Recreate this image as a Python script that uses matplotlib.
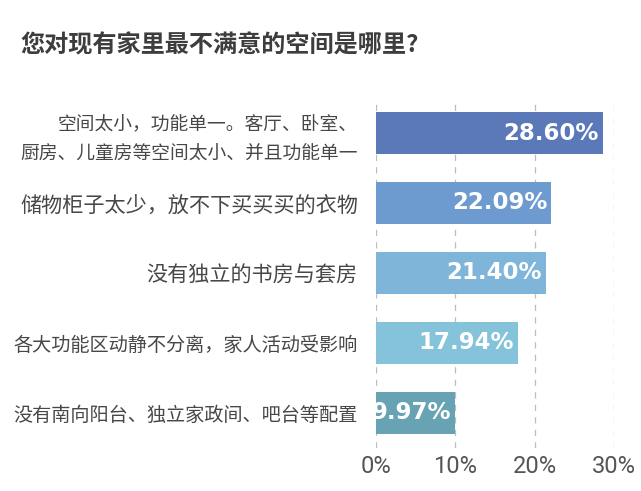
import matplotlib.pyplot as plt
import numpy as np

# data
categories = [
    "空间太小，功能单一。客厅、卧室、\n厨房、儿童房等空间太小、并且功能单一",
    "储物柜子太少，放不下买买买的衣物",
    "没有独立的书房与套房",
    "各大功能区动静不分离，家人活动受影响",
    "没有南向阳台、独立家政间、吧台等配置",
]
values = [28.60, 22.09, 21.40, 17.94, 9.97]
colors = ["#5b79b9", "#6e9bcf", "#7fb5d9", "#85c3db", "#68a3b3"]
xticks = [0, 10, 20, 30]
title = "您对现有家里最不满意的空间是哪里?"

cjk = ["Noto Sans CJK SC", "DejaVu Sans"]
label_sizes = [13.5, 15.2, 15.2, 13.8, 13.8]

fig = plt.figure(figsize=(6.41, 4.91), dpi=100)
ax = fig.add_axes([0.5866, 0.0876, 0.958 - 0.5866, 0.8004 - 0.0876])

y = np.arange(len(values))
bars = ax.barh(y, values, height=0.6, color=colors, zorder=2)
ax.set_ylim(len(values) - 0.5, -0.5)
ax.set_xlim(0, 30)

for b, v in zip(bars, values):
    ax.annotate(f"{v:.2f}%", xy=(v, b.get_y() + b.get_height() / 2),
                xytext=(-3, 0), textcoords="offset points",
                ha="right", va="center", color="white",
                fontsize=16.5, fontweight="bold", family="DejaVu Sans", zorder=3)

ax.set_yticks(y)
ax.set_yticklabels(categories, family=cjk, color="#474747", linespacing=1.5)
for lab, s in zip(ax.get_yticklabels(), label_sizes):
    lab.set_fontsize(s)
ax.set_xticks(xticks)
ax.set_xticklabels([f"{t}%" for t in xticks], family="Roboto",
                   fontsize=17, color="#555555")
ax.tick_params(axis="both", length=0)
ax.tick_params(axis="y", pad=13)
ax.tick_params(axis="x", pad=5)

ax.grid(axis="x", linestyle=(0, (5, 5)), color="#bdbdbd", linewidth=0.9, zorder=1)
for s in ax.spines.values():
    s.set_visible(False)

fig.text(0.031, 0.908, title, family=cjk, fontweight="bold", fontsize=17.4,
         color="#3d3d3d", ha="left", va="center")

fig.savefig("out.png", dpi=100)
